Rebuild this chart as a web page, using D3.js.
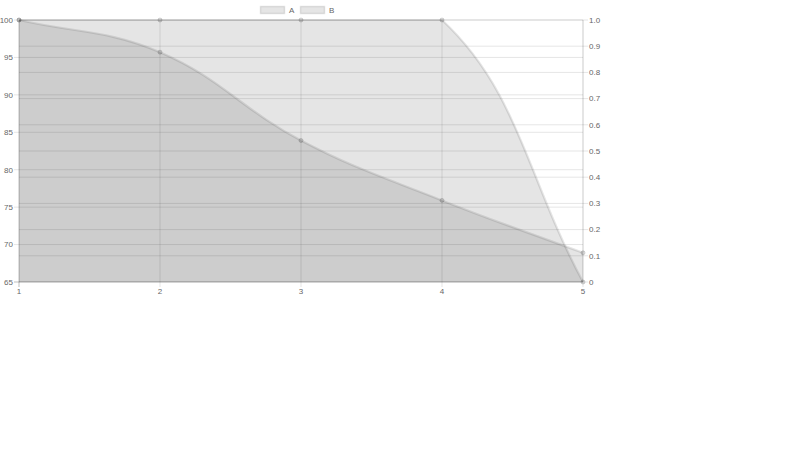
<!DOCTYPE html>
<meta charset="utf-8">
<style>
body { margin: 0; background: #fff; }
text { font-family: "Liberation Sans", Arial, sans-serif; font-size: 8px; fill: #666; }
</style>
<svg id="svg" width="800" height="450"></svg>
<script src="https://d3js.org/d3.v7.min.js"></script>
<script>
var labels = ["1", "2", "3", "4", "5"];
var seriesA = [100, 95.7, 83.9, 75.9, 68.9];
var seriesB = [1, 1, 1, 1, 0];
var leftTicks = [65, 70, 75, 80, 85, 90, 95, 100];
var rightTicks = [0, 0.1, 0.2, 0.3, 0.4, 0.5, 0.6, 0.7, 0.8, 0.9, 1.0];
var legendNames = ["A", "B"];

var svg = d3.select("svg"),
    margin = {top: 20, right: 217, bottom: 168, left: 19},
    width = +svg.attr("width") - margin.left - margin.right,
    height = +svg.attr("height") - margin.top - margin.bottom;

var grid = "rgba(0,0,0,0.1)",
    fillC = "rgba(0,0,0,0.1)";

var x = d3.scalePoint().domain(labels).range([0, width]),
    yL = d3.scaleLinear().domain([65, 100]).range([height, 0]),
    yR = d3.scaleLinear().domain([0, 1]).range([height, 0]);

var g = svg.append("g")
    .attr("transform", "translate(" + margin.left + "," + margin.top + ")");

// chart.js style spline (tension 0.4, capped to chart area)
function SplineCurve(context) { this._context = context; }
SplineCurve.prototype = {
  areaStart: function() { this._line = 0; },
  areaEnd: function() { this._line = NaN; },
  lineStart: function() { this._pts = []; },
  point: function(px, py) { this._pts.push([+px, +py]); },
  lineEnd: function() {
    var p = this._pts, c = this._context, t = 0.4, n = p.length;
    if (n) {
      if (this._line) c.lineTo(p[0][0], p[0][1]); else c.moveTo(p[0][0], p[0][1]);
      var cps = p.map(function(cur, i) {
        var prev = p[Math.max(i - 1, 0)], next = p[Math.min(i + 1, n - 1)];
        var d01 = Math.hypot(cur[0] - prev[0], cur[1] - prev[1]),
            d12 = Math.hypot(next[0] - cur[0], next[1] - cur[1]);
        var s01 = d01 / (d01 + d12 || 1), s12 = d12 / (d01 + d12 || 1);
        var fa = t * s01, fb = t * s12;
        var dx = next[0] - prev[0], dy = next[1] - prev[1];
        var cap = function(q) {
          return [Math.max(0, Math.min(width, q[0])), Math.max(0, Math.min(height, q[1]))];
        };
        return [cap([cur[0] - fa * dx, cur[1] - fa * dy]), cap([cur[0] + fb * dx, cur[1] + fb * dy])];
      });
      for (var i = 1; i < n; i++) {
        c.bezierCurveTo(cps[i - 1][1][0], cps[i - 1][1][1], cps[i][0][0], cps[i][0][1], p[i][0], p[i][1]);
      }
    }
    if (this._line || (this._line !== 0 && n === 1)) c.closePath();
    this._line = 1 - this._line;
  }
};
function splineCurve(context) { return new SplineCurve(context); }

// gridlines: x
g.selectAll(".gx").data(labels).enter().append("line")
    .attr("x1", function(d) { return x(d); }).attr("x2", function(d) { return x(d); })
    .attr("y1", 0).attr("y2", height + 5)
    .attr("stroke", function(d, i) { return i === 0 ? "rgba(0,0,0,0.25)" : grid; });

// gridlines: left
g.selectAll(".gl").data(leftTicks).enter().append("line")
    .attr("x1", -5).attr("x2", width)
    .attr("y1", function(d) { return yL(d); }).attr("y2", function(d) { return yL(d); })
    .attr("stroke", function(d, i) { return i === 0 ? "rgba(0,0,0,0.25)" : grid; });

// gridlines: right
g.selectAll(".gr").data(rightTicks).enter().append("line")
    .attr("x1", 0).attr("x2", width + 5)
    .attr("y1", function(d) { return yR(d); }).attr("y2", function(d) { return yR(d); })
    .attr("stroke", grid);
g.append("line").attr("x1", width).attr("x2", width).attr("y1", 0).attr("y2", height).attr("stroke", grid);

// areas
var datasets = [
  {name: "B", values: seriesB, y: yR},
  {name: "A", values: seriesA, y: yL}
];
datasets.forEach(function(ds) {
  var area = d3.area()
      .x(function(d, i) { return x(labels[i]); })
      .y0(height)
      .y1(function(d) { return ds.y(d); })
      .curve(splineCurve);
  var line = d3.line()
      .x(function(d, i) { return x(labels[i]); })
      .y(function(d) { return ds.y(d); })
      .curve(splineCurve);
  g.append("path").datum(ds.values).attr("d", area).attr("fill", fillC);
  g.append("path").datum(ds.values).attr("d", line)
      .attr("fill", "none").attr("stroke", fillC).attr("stroke-width", 2.2);
  g.selectAll(".pt" + ds.name).data(ds.values).enter().append("circle")
      .attr("cx", function(d, i) { return x(labels[i]); })
      .attr("cy", function(d) { return ds.y(d); })
      .attr("r", 2)
      .attr("fill", fillC).attr("stroke", "rgba(0,0,0,0.15)").attr("stroke-width", 1);
});

// tick labels
g.selectAll(".tl").data(leftTicks).enter().append("text")
    .attr("x", -6).attr("y", function(d) { return yL(d); })
    .attr("dy", "0.35em").attr("text-anchor", "end")
    .text(function(d) { return d; });
g.selectAll(".tr").data(rightTicks).enter().append("text")
    .attr("x", width + 6).attr("y", function(d) { return yR(d); })
    .attr("dy", "0.35em").attr("text-anchor", "start")
    .text(function(d) { return d === 0 ? "0" : d.toFixed(1); });
g.selectAll(".tx").data(labels).enter().append("text")
    .attr("x", function(d) { return x(d); }).attr("y", height + 9)
    .attr("dy", "0.35em").attr("text-anchor", "middle")
    .text(function(d) { return d; });

// legend
var leg = svg.append("g").attr("transform", "translate(260,6)");
legendNames.forEach(function(name, i) {
  var lg = leg.append("g").attr("transform", "translate(" + (i * 40) + ",0)");
  lg.append("rect").attr("x", 0.5).attr("y", 0.5).attr("width", 24).attr("height", 7)
      .attr("fill", fillC).attr("stroke", fillC).attr("stroke-width", 1.5);
  lg.append("text").attr("x", 29).attr("y", 4).attr("dy", "0.35em").text(name);
});
</script>
